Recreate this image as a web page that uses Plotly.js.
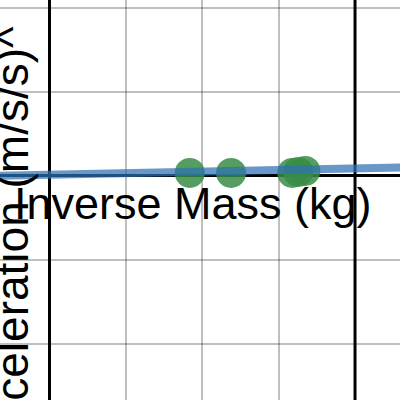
<!DOCTYPE html>
<html>
<head>
<meta charset="utf-8">
<script src="https://cdn.plot.ly/plotly-3.0.1.min.js"></script>
<style>
  html, body { margin: 0; padding: 0; background: #fff; }
  #plot_accel { width: 400px; height: 400px; }
</style>
</head>
<body>
<div id="plot_accel"></div>
<script>
// measured points (grid units)
var inverseMass = [1.84, 2.38, 3.18, 3.26, 3.35];
var acceleration = [0.036, 0.036, 0.036, 0.048, 0.060];

// fitted line at its two ends
var fitX = [-0.7, 4.7];
var fitY = [0.001, 0.103];

var xLabel = 'Inverse Mass (kg)';
var yLabel = 'Acceleration (m/s/s)^';

var points = {
  x: inverseMass,
  y: acceleration,
  mode: 'markers',
  type: 'scatter',
  marker: {
    size: 30,
    color: 'rgba(56,140,70,0.85)'
  },
  hoverinfo: 'skip'
};

var fit = {
  x: fitX,
  y: fitY,
  mode: 'lines',
  type: 'scatter',
  line: {
    color: 'rgba(45,112,179,0.72)',
    width: 8
  },
  hoverinfo: 'skip'
};

var data = [points, fit];

var layout = {
  width: 400,
  height: 400,
  margin: {l: 0, r: 0, t: 0, b: 0},
  showlegend: false,
  paper_bgcolor: '#fff',
  plot_bgcolor: '#fff',
  font: {family: 'Liberation Sans, Arial, sans-serif', color: '#000'},
  xaxis: {
    range: [-0.6405, 4.588],
    dtick: 1,
    showticklabels: false,
    ticks: '',
    gridcolor: 'rgba(0,0,0,0.25)',
    gridwidth: 2,
    zeroline: true,
    zerolinecolor: '#000',
    zerolinewidth: 3,
    showline: false
  },
  yaxis: {
    range: [-2.667, 2.095],
    dtick: 1,
    showticklabels: false,
    ticks: '',
    gridcolor: 'rgba(0,0,0,0.25)',
    gridwidth: 2,
    zeroline: true,
    zerolinecolor: '#000',
    zerolinewidth: 3,
    showline: false
  },
  shapes: [{
    type: 'line',
    xref: 'x', yref: 'paper',
    x0: 4, x1: 4, y0: 0, y1: 1,
    layer: 'below',
    line: {color: '#000', width: 3}
  }],
  annotations: [{
    text: xLabel,
    showarrow: false,
    xref: 'paper', yref: 'paper',
    x: 0.4835, y: 0.4918,
    xanchor: 'center', yanchor: 'middle',
    font: {size: 45, color: '#000'}
  }, {
    text: yLabel,
    showarrow: false,
    textangle: -90,
    xref: 'paper', yref: 'paper',
    x: 0.029, y: 0.398,
    xanchor: 'center', yanchor: 'middle',
    font: {size: 46, color: '#000'}
  }]
};

var config = {
  staticPlot: true
}

Plotly.newPlot('plot_accel', data, layout, config);
</script>
</body>
</html>
